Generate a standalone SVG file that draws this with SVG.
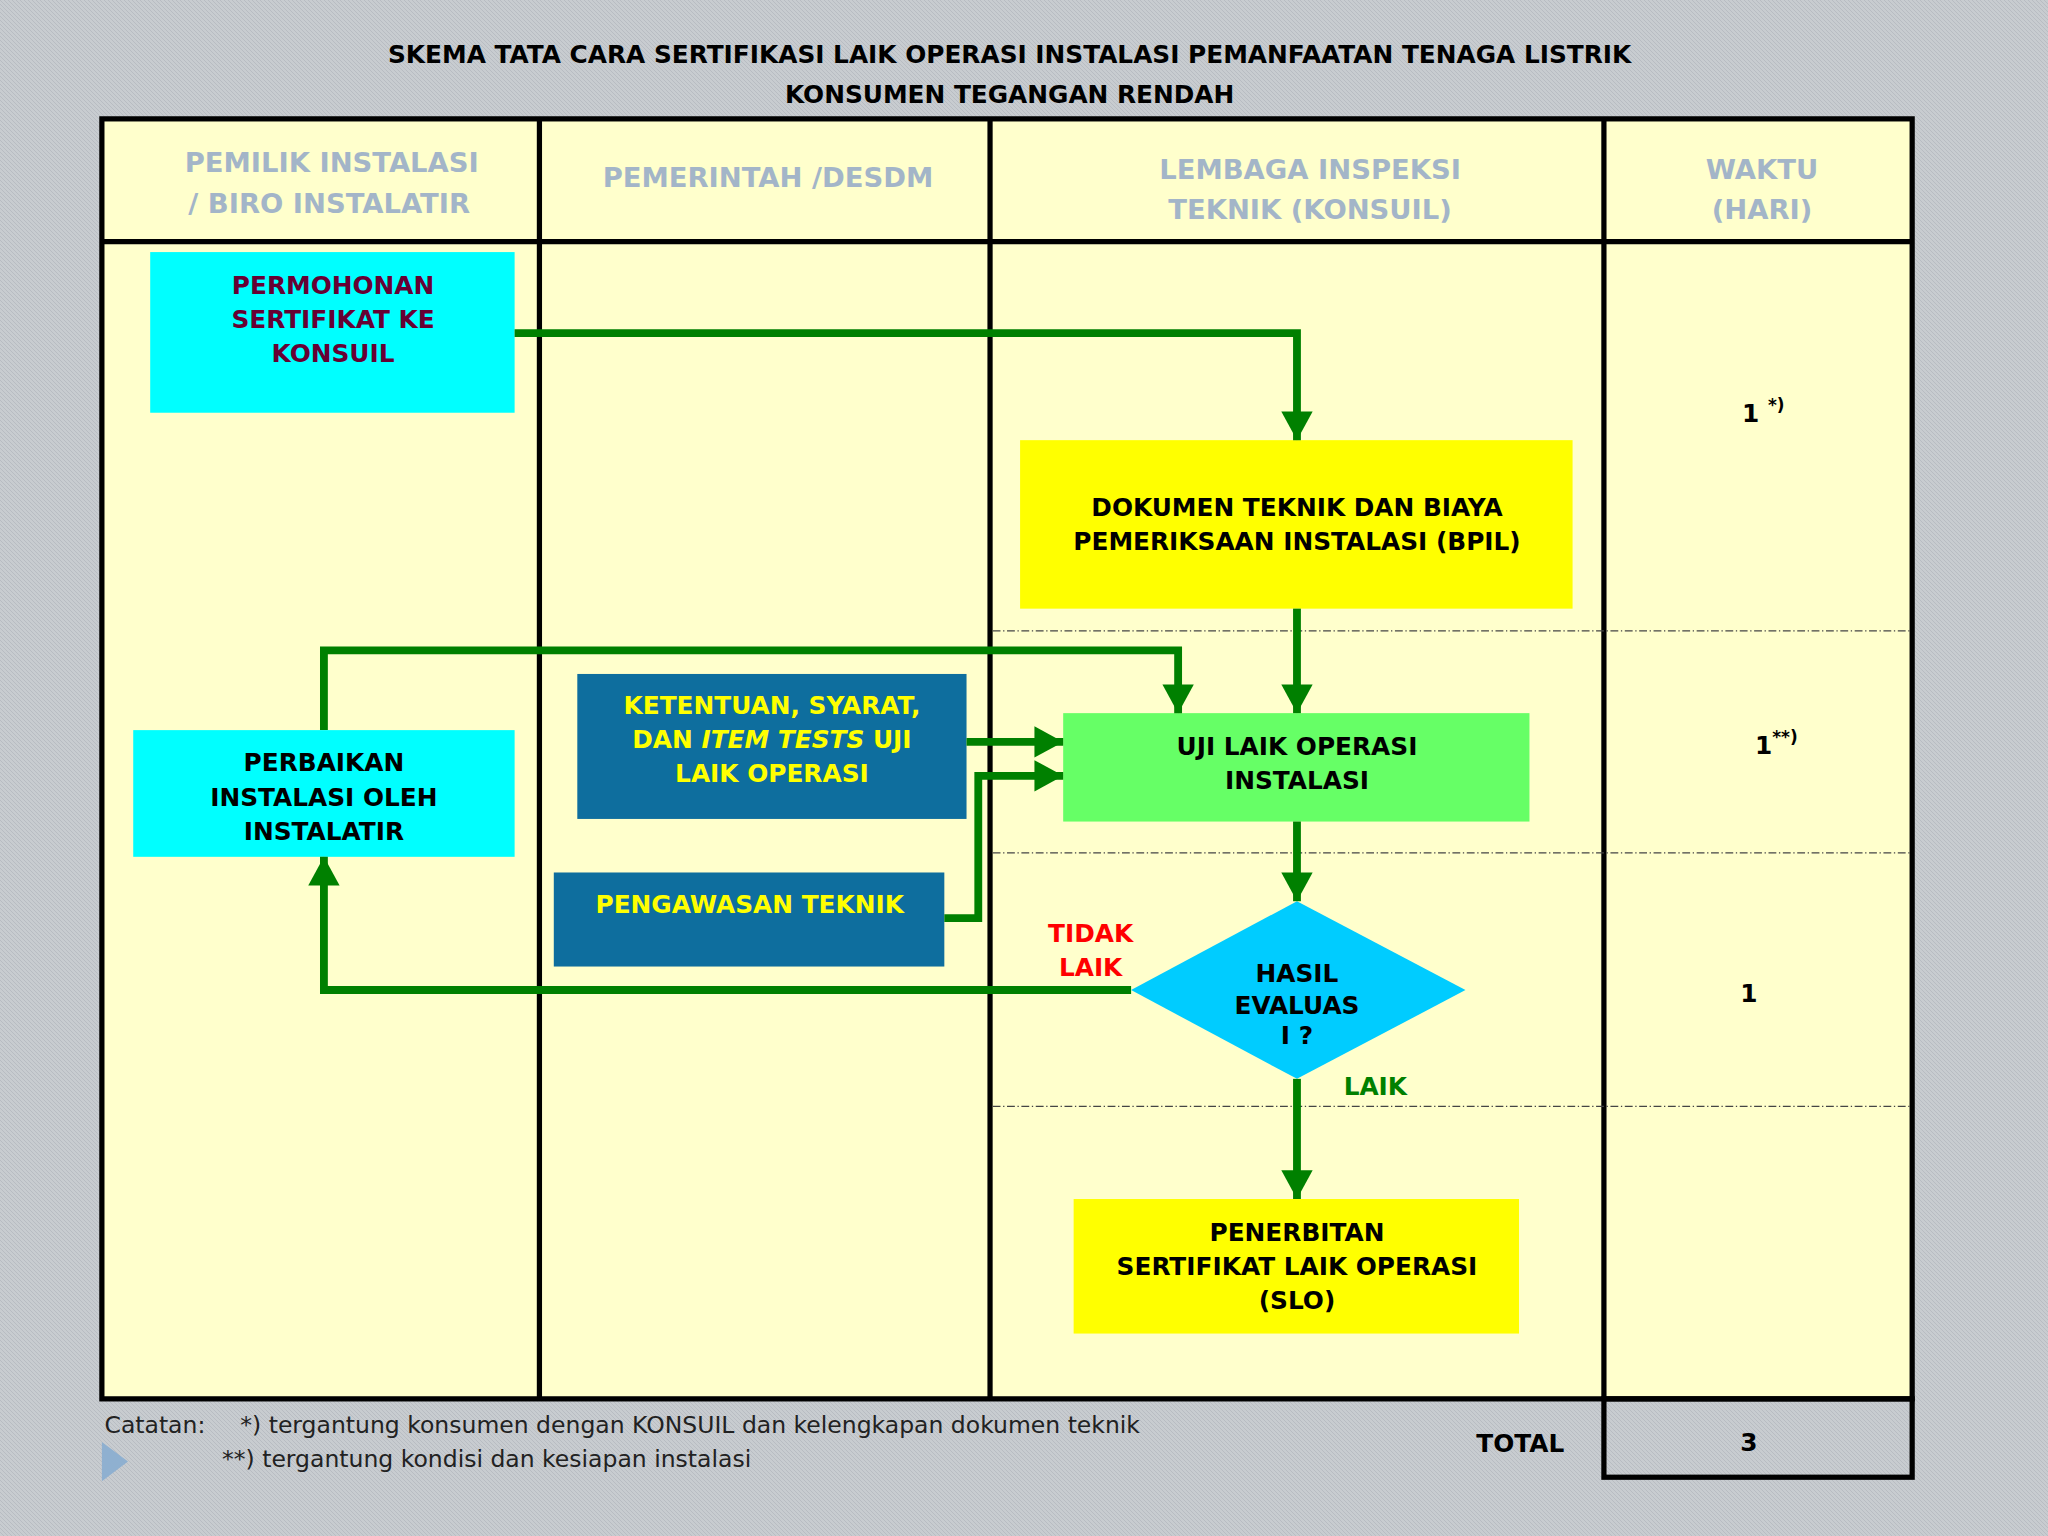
<svg xmlns="http://www.w3.org/2000/svg" width="2048" height="1536" viewBox="0 0 2048 1536">
<defs>
<pattern id="bg" width="4" height="4" patternUnits="userSpaceOnUse"><rect width="4" height="4" fill="#c8ccd0"/><path d="M0 0L4 4" stroke="#b8bcc2" stroke-width="1"/></pattern>
<marker id="ah" markerUnits="userSpaceOnUse" markerWidth="26" markerHeight="26" refX="22" refY="12" orient="auto"><path d="M0 0L22 12L0 24Z" fill="#008000"/></marker>
</defs>
<style>
.hd{font-family:"DejaVu Sans",sans-serif;font-weight:bold;font-size:21px;fill:#a3b5c8;text-anchor:middle}
.t{font-family:"DejaVu Sans",sans-serif;font-weight:bold;font-size:19px;text-anchor:middle;fill:#000}
.c{stroke:#008000;stroke-width:6;fill:none;marker-end:url(#ah)}
.ln{stroke:#000;stroke-width:4;fill:none}
.dl{stroke:#444;stroke-width:1;stroke-dasharray:6 2 1 2}
.n{font-family:"DejaVu Sans",sans-serif;font-size:18px;fill:#222}
</style>
<rect width="2048" height="1536" fill="url(#bg)"/>
<g transform="scale(1.306122)">
<g id="title"><text class="t" x="773" y="48" font-size="23">SKEMA TATA CARA SERTIFIKASI LAIK OPERASI INSTALASI PEMANFAATAN TENAGA LISTRIK</text><text class="t" x="773" y="79" font-size="23">KONSUMEN TEGANGAN RENDAH</text></g>
<g id="table">
<rect x="78" y="91" width="1386" height="980" fill="#ffffcc"/>
<rect x="1228" y="1071" width="236" height="60" fill="#ffffcc" class="ln"/>
<rect x="78" y="91" width="1386" height="980" class="ln"/>
<path class="ln" d="M78 185H1464M413 91V1071M758 91V1071M1228 91V1071"/>
<path class="dl" d="M760 483H1462M760 653H1462M760 847H1462"/>
<text class="hd" x="254" y="132">PEMILIK INSTALASI</text><text class="hd" x="252" y="163">/ BIRO INSTALATIR</text>
<text class="hd" x="588" y="143">PEMERINTAH /DESDM</text>
<text class="hd" x="1003" y="137">LEMBAGA INSPEKSI</text><text class="hd" x="1003" y="168">TEKNIK (KONSUIL)</text>
<text class="hd" x="1349" y="137">WAKTU</text><text class="hd" x="1349" y="168">(HARI)</text>
</g>
<g id="n1"><rect x="115" y="193" width="279" height="123" fill="#00ffff"/><text class="t" fill="#660033" style="fill:#660033" x="255" y="225">PERMOHONAN</text><text class="t" style="fill:#660033" x="255" y="251">SERTIFIKAT KE</text><text class="t" style="fill:#660033" x="255" y="277">KONSUIL</text></g>
<g id="n2"><rect x="781" y="337" width="423" height="129" fill="#ffff00"/><text class="t" x="993" y="395">DOKUMEN TEKNIK DAN BIAYA</text><text class="t" x="993" y="421">PEMERIKSAAN INSTALASI (BPIL)</text></g>
<g id="n3"><rect x="814" y="546" width="357" height="83" fill="#66ff66"/><text class="t" x="993" y="578">UJI LAIK OPERASI</text><text class="t" x="993" y="604">INSTALASI</text></g>
<g id="n4"><rect x="442" y="516" width="298" height="111" fill="#0e6e9e"/><text class="t" style="fill:#ffff00" x="591" y="547">KETENTUAN, SYARAT,</text><text class="t" style="fill:#ffff00" x="591" y="573">DAN <tspan font-style="italic">ITEM TESTS</tspan> UJI</text><text class="t" style="fill:#ffff00" x="591" y="599">LAIK OPERASI</text></g>
<g id="n5"><rect x="424" y="668" width="299" height="72" fill="#0e6e9e"/><text class="t" style="fill:#ffff00" x="574" y="699">PENGAWASAN TEKNIK</text></g>
<g id="n6"><rect x="102" y="559" width="292" height="97" fill="#00ffff"/><text class="t" x="248" y="590">PERBAIKAN</text><text class="t" x="248" y="617">INSTALASI OLEH</text><text class="t" x="248" y="643">INSTALATIR</text></g>
<g id="n7"><path d="M866 758L993 690L1122 758L993 826Z" fill="#00ccff"/><text class="t" font-size="17" x="993" y="752">HASIL</text><text class="t" font-size="17" x="993" y="776">EVALUAS</text><text class="t" font-size="17" x="993" y="799">I ?</text></g>
<g id="n8"><rect x="822" y="918" width="341" height="103" fill="#ffff00"/><text class="t" x="993" y="950">PENERBITAN</text><text class="t" x="993" y="976">SERTIFIKAT LAIK OPERASI</text><text class="t" x="993" y="1002">(SLO)</text></g>
<g id="connectors">
<path class="c" d="M394 255H993V337"/>
<path class="c" d="M993 466V546"/>
<path class="c" d="M248 559V498H902V546"/>
<path class="c" d="M740 568H814"/>
<path class="c" d="M723 703H749V594H814"/>
<path class="c" d="M993 629V690"/>
<path class="c" d="M866 758H248V656"/>
<path class="c" d="M993 826V918"/>
</g>
<g id="labels">
<text class="t" style="fill:#ff0000" x="835" y="721">TIDAK</text><text class="t" style="fill:#ff0000" x="835" y="747">LAIK</text>
<text class="t" style="fill:#008000" x="1053" y="838">LAIK</text>
<text class="t" x="1350" y="323">1 <tspan font-size="13" dy="-8">*)</tspan></text>
<text class="t" x="1360" y="577">1<tspan font-size="13" dy="-8">**)</tspan></text>
<text class="t" x="1339" y="767">1</text>
<text class="t" x="1164" y="1112">TOTAL</text>
<text class="t" font-size="21" x="1339" y="1111">3</text>
<text class="n" x="80" y="1097">Catatan:</text><text class="n" x="184" y="1097">*) tergantung konsumen dengan KONSUIL dan kelengkapan dokumen teknik</text>
<text class="n" x="170" y="1123">**) tergantung kondisi dan kesiapan instalasi</text>
<path d="M78 1104L98 1119L78 1134Z" fill="#8fb0d0"/>
</g>
</g>
</svg>
